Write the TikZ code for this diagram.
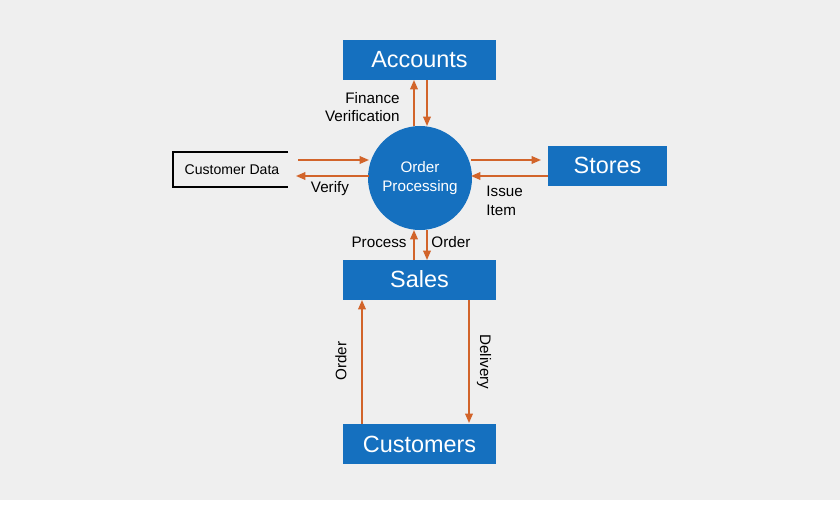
\documentclass[tikz,border=0pt]{standalone}
\usepackage{fontspec}
\setmainfont{Liberation Sans}
\usetikzlibrary{positioning,arrows.meta}
\definecolor{boxblue}{HTML}{1570BF}
\definecolor{flow}{HTML}{D2642A}
\definecolor{bggray}{HTML}{EFEFEF}
\begin{document}
\begin{tikzpicture}[x=0.03cm,y=-0.03cm,entity/.style={fill=boxblue,text=white,minimum width=4.59cm,minimum height=1.2cm,font=\fontsize{20}{22}\selectfont,inner sep=0pt}, process/.style={circle,fill=boxblue,text=white,minimum size=3.12cm,align=center,font=\fontsize{13}{16}\selectfont}, msg/.style={-{Triangle[length=8pt,width=6.5pt]},flow,line width=1.3pt}, lbl/.style={font=\fontsize{13}{16}\selectfont,align=left,inner sep=1pt}]
        \fill[bggray] (0,0) rectangle (840,500);
        \fill[white] (0,500) rectangle (840,505);
        \useasboundingbox (0,0) rectangle (840,505);
        
        \node[process] (op) at (420,178) {Order\\Processing};
        \node[entity] (acc) at (419.5,60) {Accounts};
        \node[entity,minimum width=3.57cm] (sto) at (607.5,165.5) {Stores};
        \node[entity] (sal) at (419.5,279.5) {Sales};
        \node[entity] (cus) at (419.5,444) {Customers};
        
        \node[font=\fontsize{12}{14}\selectfont] (cd) at (232,170) {Customer Data};
        \draw[line width=1.3pt] (288,152) -- (173,152) -- (173,187) -- (288,187);
        
        \coordinate (a1) at (414,126); \coordinate (a2) at (414,80);
        \coordinate (a3) at (427,80); \coordinate (a4) at (427,126);
        \draw[msg] (a1) -- (a2);
        \draw[msg] (a3) -- (a4);
        \node[lbl,align=right,anchor=east] (fv) at (401,107) {Finance\\Verification};
        
        \coordinate (d1) at (298,160); \coordinate (d2) at (369,160);
        \coordinate (d3) at (369,176); \coordinate (d4) at (296,176);
        \draw[msg] (d1) -- (d2);
        \draw[msg] (d3) -- (d4);
        \node[lbl] (vf) at (330,189) {Verify};
        
        \coordinate (s1) at (471,160); \coordinate (s2) at (541,160);
        \coordinate (s3) at (548,176); \coordinate (s4) at (471,176);
        \draw[msg] (s1) -- (s2);
        \draw[msg] (s3) -- (s4);
        \node[lbl,anchor=west] (ii) at (485,201) {Issue\\Item};
        
        \coordinate (p1) at (414,260); \coordinate (p2) at (414,230);
        \coordinate (p3) at (427,230); \coordinate (p4) at (427,260);
        \draw[msg] (p1) -- (p2);
        \draw[msg] (p3) -- (p4);
        \node[lbl,anchor=east] (pr) at (408,242) {Process};
        \node[lbl,anchor=west] (or) at (430,242) {Order};
        
        \coordinate (c1) at (362,424); \coordinate (c2) at (362,300);
        \coordinate (c3) at (469,300); \coordinate (c4) at (469,423);
        \draw[msg] (c1) -- (c2);
        \draw[msg] (c3) -- (c4);
        \node[lbl,rotate=90] (co) at (341,361) {Order};
        \node[lbl,rotate=-90] (dl) at (484,362) {Delivery};
    \end{tikzpicture}
\end{document}
